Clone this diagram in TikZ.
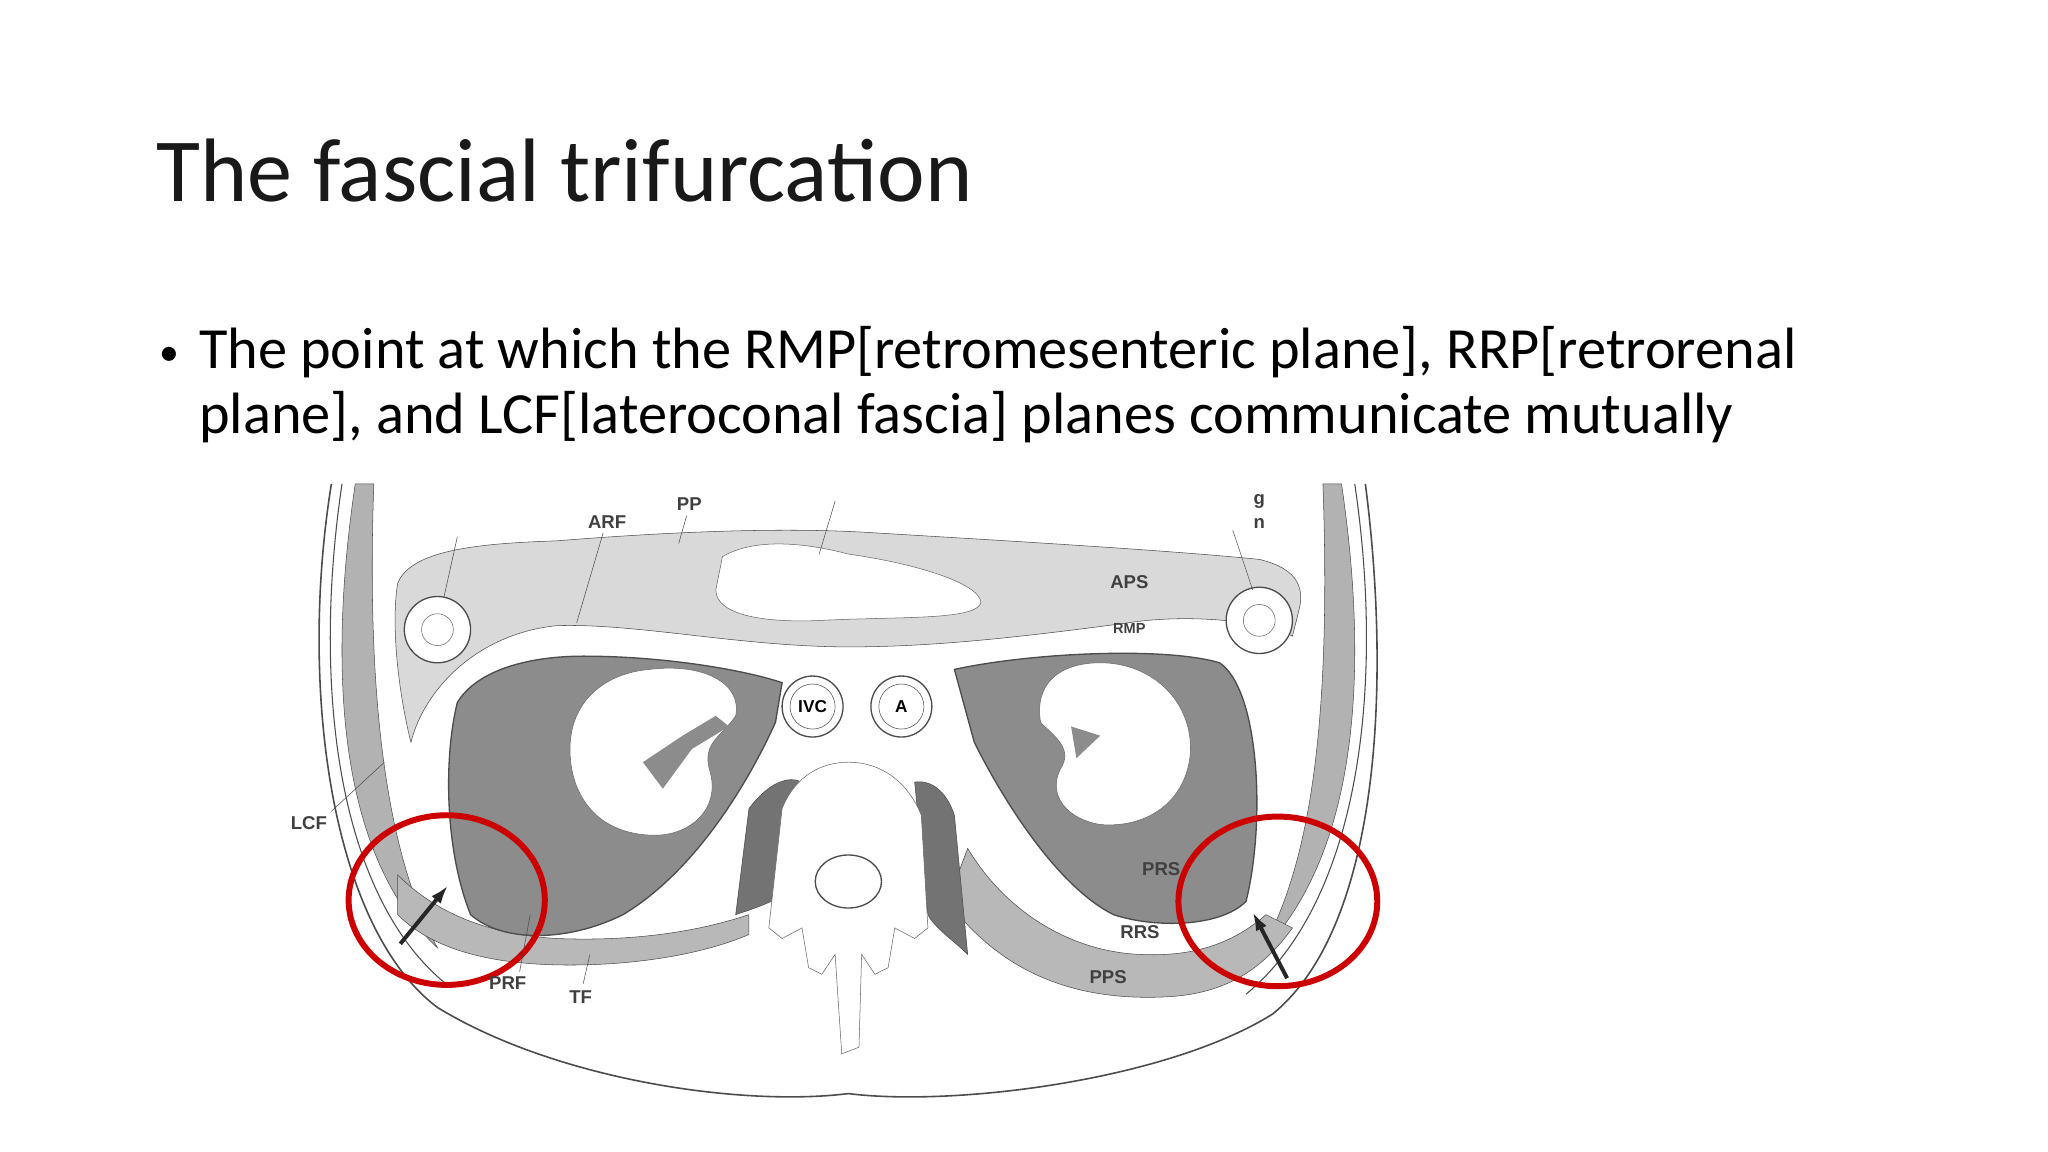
\documentclass[tikz,border=0pt]{standalone}
\usepackage{fontspec}
\setmainfont{Carlito}
\setsansfont{Liberation Sans}
\usetikzlibrary{arrows.meta}
\begin{document}
\begin{tikzpicture}[x=1pt,y=-1pt,
  lab/.style={font=\sffamily\bfseries\fontsize{14}{14}\selectfont,text=black!75,inner sep=0},
  ln/.style={draw=black!70,line width=1.2},
  redc/.style={draw=red!80!black,line width=4.5},
  bodytext/.style={anchor=base west,inner sep=0,font=\fontsize{44}{49}\selectfont},
  arr/.style={draw=black!85,line width=3,-{Latex[length=14,width=9]}}]
\useasboundingbox (0,0) rectangle (1545,869);
\fill[white] (0,0) rectangle (1545,869);
\node[anchor=base west,inner sep=0,font=\fontsize{68}{68}\selectfont,text=black!90] (title) at (118,152) {The fascial trifurcation};
\node[anchor=base west,inner sep=0,font=\fontsize{30}{30}\selectfont] (bul) at (120,276) {\textbullet};
\node[bodytext] (txt1) at (150,278) {The point at which the RMP[retromesenteric plane], RRP[retrorenal};
\node[bodytext] (txt2) at (150,327) {plane], and LCF[lateroconal fascia] planes communicate mutually};
% body outline
\draw[ln] (250,365) .. controls (225,520) and (250,700) .. (330,760) .. controls (420,815) and (560,835) .. (640,825) .. controls (720,835) and (880,815) .. (960,765) .. controls (1040,700) and (1050,520) .. (1030,365);
% abdominal wall band
\path[fill=black!30,draw=black!70] (268,365) .. controls (245,520) and (260,650) .. (330,715) .. controls (300,660) and (275,560) .. (282,365) -- cycle;
\path[fill=black!30,draw=black!70] (1012,365) .. controls (1035,520) and (1020,650) .. (950,720) .. controls (985,660) and (1005,560) .. (998,365) -- cycle;
\draw[ln,line width=0.8] (258,365) .. controls (235,520) and (255,680) .. (340,745);
\draw[ln,line width=0.8] (1022,365) .. controls (1045,520) and (1025,680) .. (940,750);
% lower posterior pararenal band (PPS)
\path[fill=black!28,draw=black!70] (300,690) .. controls (330,720) and (380,728) .. (430,728) .. controls (480,728) and (530,720) .. (565,705) -- (565,690) .. controls (520,705) and (470,710) .. (420,708) .. controls (370,705) and (330,690) .. (300,660) -- cycle;
\path[fill=black!28,draw=black!70] (715,680) .. controls (760,740) and (820,755) .. (880,752) .. controls (920,750) and (950,735) .. (975,700) -- (955,690) .. controls (930,712) and (900,722) .. (860,720) .. controls (810,718) and (760,690) .. (730,640) -- cycle;
% APS region
\path[fill=black!15,draw=black!70] (300,440) .. controls (310,415) and (360,410) .. (420,408) .. controls (520,400) and (600,398) .. (660,402) .. controls (760,408) and (880,415) .. (950,422) .. controls (975,428) and (985,440) .. (980,460) -- (975,480) .. controls (960,470) and (900,462) .. (850,470) .. controls (760,482) and (700,488) .. (640,488) .. controls (560,488) and (480,470) .. (420,472) .. controls (360,478) and (320,520) .. (310,560) .. controls (300,520) and (295,470) .. (300,440) -- cycle;
% pancreas
\path[fill=white,draw=black!60] (545,420) .. controls (570,405) and (610,410) .. (640,418) .. controls (690,425) and (740,440) .. (740,455) .. controls (735,468) and (680,465) .. (620,468) .. controls (580,470) and (540,465) .. (540,445) -- cycle;
% colons
\node[circle,draw=black!70,fill=white,minimum size=50,line width=1] (colL) at (330,475) {};
\node[circle,draw=black!70,fill=white,minimum size=50,line width=1] (colR) at (950,468) {};
\draw[black!60] (330,475) circle (12) (950,468) circle (12);
% perirenal spaces
\path[fill=black!45,draw=black!70,line width=1] (345,530) .. controls (360,505) and (400,495) .. (440,495) .. controls (500,495) and (560,505) .. (590,515) -- (585,545) .. controls (560,600) and (520,660) .. (470,690) .. controls (430,710) and (380,712) .. (355,690) .. controls (335,640) and (335,570) .. (345,530) -- cycle;
\path[fill=black!45,draw=black!70,line width=1] (720,505) .. controls (780,492) and (880,488) .. (920,500) .. controls (950,520) and (955,620) .. (940,680) .. controls (920,700) and (870,700) .. (840,690) .. controls (800,670) and (760,610) .. (735,560) -- cycle;
% kidneys
\path[fill=white,draw=black!60] (490,505) .. controls (530,500) and (560,515) .. (555,540) .. controls (545,555) and (530,560) .. (535,580) .. controls (545,610) and (520,632) .. (490,630) .. controls (450,628) and (430,600) .. (430,565) .. controls (430,530) and (455,508) .. (490,505) -- cycle;
\path[fill=white,draw=black!60] (830,500) .. controls (870,500) and (900,530) .. (898,568) .. controls (895,605) and (865,625) .. (830,622) .. controls (805,618) and (790,600) .. (800,580) .. controls (810,565) and (795,555) .. (785,545) .. controls (780,515) and (800,500) .. (830,500) -- cycle;
\path[fill=black!45] (485,575) -- (515,555) -- (540,540) -- (550,548) -- (522,565) -- (500,595) -- cycle;
\path[fill=black!45] (830,555) -- (808,548) -- (812,572) -- cycle;
% IVC and aorta
\node[circle,draw=black!70,fill=white,minimum size=46,line width=1] (ivc) at (613,533) {};
\node[circle,draw=black!70,fill=white,minimum size=46,line width=1] (ao) at (680,533) {};
\node[circle,draw=black!70,minimum size=34,inner sep=0,font=\sffamily\bfseries\fontsize{13}{13}\selectfont] at (ivc) {IVC};
\node[circle,draw=black!70,minimum size=34,inner sep=0,font=\sffamily\bfseries\fontsize{13}{13}\selectfont] at (ao) {A};
% psoas
\path[fill=black!55,draw=black!70] (565,610) .. controls (580,590) and (595,585) .. (605,590) -- (600,670) .. controls (585,680) and (570,685) .. (555,690) -- cycle;
\path[fill=black!55,draw=black!70] (690,590) .. controls (705,588) and (715,600) .. (720,615) -- (730,720) .. controls (720,710) and (705,700) .. (700,690) -- cycle;
% spine
\path[fill=white,draw=black!60] (590,610) .. controls (600,585) and (620,575) .. (640,575) .. controls (665,575) and (685,590) .. (695,615) -- (700,700) -- (690,708) -- (675,700) -- (670,730) -- (660,735) -- (650,720) -- (648,790) -- (635,795) -- (630,720) -- (620,735) -- (610,730) -- (605,700) -- (590,708) -- (580,700) -- cycle;
\path[fill=white,draw=black!70,line width=1] (640,665) ellipse (25 and 20);
% red circles & arrows
\draw[redc] (337,679) ellipse (74 and 64);
\draw[redc] (964,680) ellipse (75 and 64);
\coordinate (aL1) at (302,712); \coordinate (aL2) at (338,668);
\coordinate (aR1) at (971,738); \coordinate (aR2) at (945,688);
\draw[arr] (aL1) -- (aL2);
\draw[arr] (aR1) -- (aR2);
% leader lines
\draw[black!70] (455,402) -- (435,470);
\draw[black!70] (518,389) -- (512,410);
\draw[black!70] (630,378) -- (618,418);
\draw[black!70] (345,405) -- (335,450);
\draw[black!70] (930,400) -- (945,445);
\draw[black!70] (250,612) -- (290,575);
\draw[black!70] (392,733) -- (400,690);
\draw[black!70] (440,742) -- (445,720);
% labels
\node[lab] (arf) at (458,394) {ARF};
\node[lab] (pp) at (520,380) {PP};
\node[lab] (aps) at (852,439) {APS};
\node[lab,font=\sffamily\bfseries\fontsize{11}{11}\selectfont] (rmp) at (852,474) {RMP};
\node[lab] (lcf) at (233,621) {LCF};
\node[lab] (prf) at (383,742) {PRF};
\node[lab] (tf) at (438,752) {TF};
\node[lab] (prs) at (876,656) {PRS};
\node[lab] (rrs) at (860,703) {RRS};
\node[lab] (pps) at (836,737) {PPS};
\node[lab] (g) at (950,378) {g};
\node[lab] (n) at (950,395) {n};
\end{tikzpicture}
\end{document}
